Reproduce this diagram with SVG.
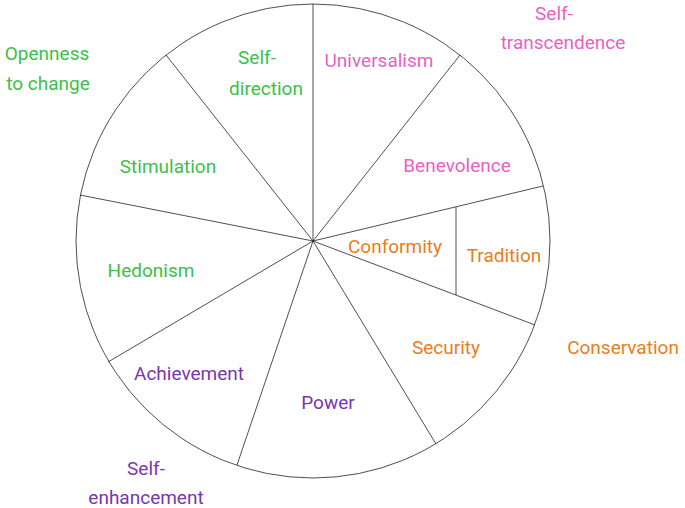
<svg xmlns="http://www.w3.org/2000/svg" width="685" height="508" viewBox="0 0 685 508">
<style>
text{font-family:Roboto,"Liberation Sans",sans-serif;font-size:19px;text-anchor:middle}
.g{fill:#3cc04a}.p{fill:#ea5fc4}.o{fill:#e67e22}.v{fill:#7a35b0}
line,circle{stroke:#222;stroke-width:0.8;fill:none}
</style>
<rect width="685" height="508" fill="#fff"/>
<g id="wheel"><circle cx="313" cy="241" r="237"/></g>
<g id="connectors">
<line x1="313" y1="241" x2="313" y2="4"/>
<line x1="313" y1="241" x2="460" y2="55"/>
<line x1="313" y1="241" x2="543" y2="186"/>
<line x1="313" y1="241" x2="535" y2="325"/>
<line x1="313" y1="241" x2="436" y2="444"/>
<line x1="313" y1="241" x2="237" y2="465"/>
<line x1="313" y1="241" x2="108" y2="362"/>
<line x1="313" y1="241" x2="80" y2="195"/>
<line x1="313" y1="241" x2="166" y2="55"/>
<line x1="456" y1="207" x2="456" y2="295"/>
</g>
<g id="n-selfdirection"><text class="g" x="257" y="64">Self-</text><text class="g" x="266" y="95">direction</text></g>
<g id="n-universalism"><text class="p" x="379" y="67">Universalism</text></g>
<g id="n-benevolence"><text class="p" x="457" y="172">Benevolence</text></g>
<g id="n-conformity"><text class="o" x="395" y="253">Conformity</text></g>
<g id="n-tradition"><text class="o" x="504" y="262">Tradition</text></g>
<g id="n-security"><text class="o" x="446" y="354">Security</text></g>
<g id="n-power"><text class="v" x="328" y="409">Power</text></g>
<g id="n-achievement"><text class="v" x="189" y="380">Achievement</text></g>
<g id="n-hedonism"><text class="g" x="151" y="277">Hedonism</text></g>
<g id="n-stimulation"><text class="g" x="168" y="173">Stimulation</text></g>
<g id="n-openness"><text class="g" x="47" y="60">Openness</text><text class="g" x="48" y="90">to change</text></g>
<g id="n-selftrans"><text class="p" x="554" y="20">Self-</text><text class="p" x="563" y="49">transcendence</text></g>
<g id="n-conservation"><text class="o" x="623" y="354">Conservation</text></g>
<g id="n-selfenh"><text class="v" x="146" y="475">Self-</text><text class="v" x="146" y="504">enhancement</text></g>
</svg>
